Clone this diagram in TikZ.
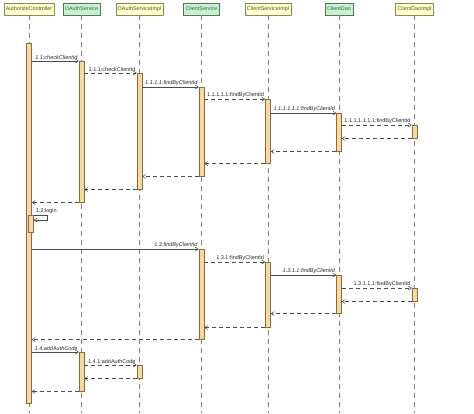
\documentclass[tikz,border=0pt]{standalone}
\usepackage{fontspec}
\setmainfont{Liberation Sans}
\usetikzlibrary{positioning}
\usetikzlibrary{arrows.meta}

\definecolor{clsfill}{HTML}{FFFFCC}
\definecolor{clsdraw}{HTML}{8C875A}
\definecolor{clstext}{HTML}{5E5230}
\definecolor{itffill}{HTML}{C9F0D2}
\definecolor{itfdraw}{HTML}{4F7A5A}
\definecolor{itftext}{HTML}{2F7040}
\definecolor{actfill}{HTML}{F7D9A3}
\definecolor{actdraw}{HTML}{8A6B3C}
\definecolor{msgcol}{HTML}{4A4A4A}

\tikzset{
  head/.style={draw=clsdraw,fill=clsfill,text=clstext,minimum height=12pt,inner xsep=2pt,inner ysep=0pt,font=\fontsize{5.4}{6}\selectfont},
  itfhead/.style={head,draw=itfdraw,fill=itffill,text=itftext},
  life/.style={draw=gray,line width=0.8pt,dash pattern=on 5pt off 4pt},
  act/.style={draw=actdraw,fill=actfill,line width=0.5pt,minimum width=5pt,inner sep=0pt,anchor=north},
  call/.style={draw=msgcol,line width=0.5pt,-{Straight Barb[length=3pt,width=4pt]}},
  impl/.style={call,dash pattern=on 4pt off 3pt},
  ret/.style={impl},
  lbl/.style={inner sep=1pt,font=\fontsize{5.5}{6}\selectfont,text=black!85},
  lblit/.style={lbl,font=\fontsize{5.5}{6}\selectfont\itshape}
}

\begin{document}
\begin{tikzpicture}[x=1pt,y=-1pt]
 \useasboundingbox (0,0) rectangle (474,413);
 % headers
 \node[head] (ac) at (29,9) {AuthorizeController};
 \node[itfhead] (os) at (81.5,9) {OAuthService};
 \node[head] (osi) at (139.5,9) {OAuthServiceImpl};
 \node[itfhead] (cs) at (201.5,9) {ClientService};
 \node[head] (csi) at (268,9) {ClientServiceImpl};
 \node[itfhead] (cd) at (339,9) {ClientDao};
 \node[head] (cdi) at (414.5,9) {ClientDaoImpl};
 % lifelines
 \foreach \h in {ac,os,osi,cs,csi,cd,cdi}
   \draw[life] (\h.south) -- (\h.south |- 0,413);
 % activations
 \node[act,minimum height=360pt] (a0) at (29,43) {};
 \node[act,minimum height=141pt] (a1) at (81.5,61) {};
 \node[act,minimum height=116pt] (a2) at (139.5,73) {};
 \node[act,minimum height=89pt] (a3) at (201.5,87) {};
 \node[act,minimum height=64pt] (a4) at (268,99) {};
 \node[act,minimum height=38pt] (a5) at (339,113) {};
 \node[act,minimum height=13pt] (a6) at (414.5,125) {};
 \node[act,minimum height=17pt] (b0) at (31,215) {};
 \node[act,minimum height=90pt] (b1) at (201.5,249) {};
 \node[act,minimum height=65pt] (b2) at (268,262) {};
 \node[act,minimum height=38pt] (b3) at (339,275) {};
 \node[act,minimum height=13pt] (b4) at (414.5,288) {};
 \node[act,minimum height=39pt] (c1) at (81.5,352) {};
 \node[act,minimum height=13pt] (c2) at (139.5,365) {};
 % checkClientId
 \draw[call] (a0.east |- a1.north) -- (a1.north west) node[lblit,anchor=south east] {1.1:checkClientId};
 \draw[impl] (a1.east |- a2.north) -- (a2.north west) node[lbl,anchor=south east] {1.1.1:checkClientId};
 \draw[call] (a2.east |- a3.north) -- (a3.north west) node[lblit,anchor=south east] {1.1.1.1:findByClientId};
 \draw[impl] (a3.east |- a4.north) -- (a4.north west) node[lbl,anchor=south east] {1.1.1.1.1:findByClientId};
 \draw[call] (a4.east |- a5.north) -- (a5.north west) node[lblit,anchor=south east] {1.1.1.1.1.1:findByClientId};
 \draw[impl] (a5.east |- a6.north) -- (a6.north west) node[lbl,anchor=south east] {1.1.1.1.1.1.1:findByClientId};
 \draw[ret] (a6.south west) -- (a5.east |- a6.south);
 \draw[ret] (a5.south west) -- (a4.east |- a5.south);
 \draw[ret] (a4.south west) -- (a3.east |- a4.south);
 \draw[ret] (a3.south west) -- (a2.east |- a3.south);
 \draw[ret] (a2.south west) -- (a1.east |- a2.south);
 \draw[ret] (a1.south west) -- (a0.east |- a1.south);
 % login
 \draw[call] (b0.north east) -- ++(13,0) |- ([yshift=-5pt]b0.north east);
 \node[lbl,anchor=south west] (lg) at ([xshift=1pt]b0.north east) {1.2:login};
 % findByClientId
 \draw[call] (a0.east |- b1.north) -- (b1.north west) node[lblit,anchor=south east] {1.3:findByClientId};
 \draw[impl] (b1.east |- b2.north) -- (b2.north west) node[lbl,anchor=south east] {1.3.1:findByClientId};
 \draw[call] (b2.east |- b3.north) -- (b3.north west) node[lblit,anchor=south east] {1.3.1.1:findByClientId};
 \draw[impl] (b3.east |- b4.north) -- (b4.north west) node[lbl,anchor=south east] {1.3.1.1.1:findByClientId};
 \draw[ret] (b4.south west) -- (b3.east |- b4.south);
 \draw[ret] (b3.south west) -- (b2.east |- b3.south);
 \draw[ret] (b2.south west) -- (b1.east |- b2.south);
 \draw[ret] (b1.south west) -- (a0.east |- b1.south);
 % addAuthCode
 \draw[call] (a0.east |- c1.north) -- (c1.north west) node[lblit,anchor=south east] {1.4:addAuthCode};
 \draw[impl] (c1.east |- c2.north) -- (c2.north west) node[lbl,anchor=south east] {1.4.1:addAuthCode};
 \draw[ret] (c2.south west) -- (c1.east |- c2.south);
 \draw[ret] (c1.south west) -- (a0.east |- c1.south);
\end{tikzpicture}
\end{document}
